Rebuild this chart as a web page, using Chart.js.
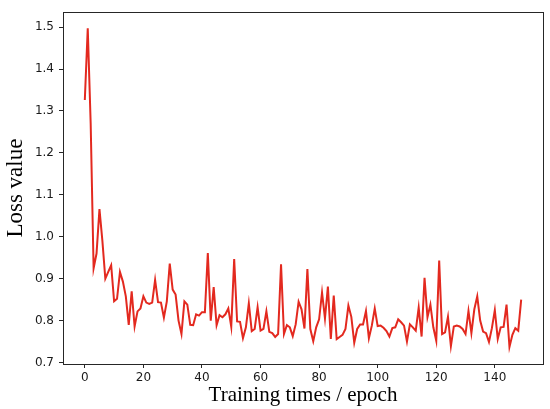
<!DOCTYPE html>
<html>
<head>
<meta charset="utf-8">
<script src="https://cdn.jsdelivr.net/npm/chart.js@4.4.1/dist/chart.umd.min.js"></script>
<style>
  html, body { margin: 0; padding: 0; background: #ffffff; }
  #wrap { width: 550px; height: 409px; position: relative; }
</style>
</head>
<body>
<div id="wrap"><canvas id="c"></canvas></div>
<script>
// Loss value per training epoch
const lossValues = [
  1.326, 1.497, 1.270, 0.925, 0.960, 1.066, 0.990, 0.900, 0.916, 0.932,
  0.846, 0.852, 0.916, 0.893, 0.858, 0.790, 0.870, 0.786, 0.822, 0.829,
  0.858, 0.843, 0.840, 0.843, 0.897, 0.844, 0.843, 0.807, 0.846, 0.936,
  0.874, 0.862, 0.800, 0.768, 0.846, 0.838, 0.790, 0.789, 0.815, 0.812,
  0.820, 0.820, 0.961, 0.800, 0.880, 0.789, 0.813, 0.808, 0.815, 0.829,
  0.785, 0.947, 0.798, 0.797, 0.758, 0.784, 0.841, 0.775, 0.780, 0.832,
  0.776, 0.780, 0.822, 0.773, 0.770, 0.761, 0.768, 0.934, 0.768, 0.789,
  0.784, 0.763, 0.791, 0.845, 0.827, 0.781, 0.923, 0.780, 0.751, 0.784,
  0.803, 0.867, 0.805, 0.881, 0.756, 0.860, 0.756, 0.761, 0.766, 0.780,
  0.836, 0.809, 0.747, 0.780, 0.791, 0.791, 0.823, 0.758, 0.788, 0.829,
  0.787, 0.788, 0.783, 0.775, 0.762, 0.782, 0.784, 0.803, 0.796, 0.788,
  0.750, 0.791, 0.784, 0.776, 0.831, 0.762, 0.902, 0.808, 0.838, 0.784,
  0.752, 0.943, 0.768, 0.772, 0.809, 0.739, 0.786, 0.788, 0.786, 0.780,
  0.768, 0.823, 0.770, 0.827, 0.858, 0.800, 0.774, 0.770, 0.749, 0.782,
  0.825, 0.756, 0.784, 0.785, 0.838, 0.737, 0.766, 0.782, 0.776, 0.850
];
// Epoch index of each loss value
const epochs = lossValues.map((_, i) => i);
const xTickValues = [0, 20, 40, 60, 80, 100, 120, 140];
const yTickValues = [0.7, 0.8, 0.9, 1.0, 1.1, 1.2, 1.3, 1.4, 1.5];
const xTitle = 'Training times / epoch';
const yTitle = 'Loss value';

const frame = {
  id: 'frame',
  afterDatasetsDraw(chart) {
    const a = chart.chartArea, ctx = chart.ctx;
    ctx.save();
    ctx.strokeStyle = '#262626';
    ctx.lineWidth = 1;
    ctx.strokeRect(Math.round(a.left) + 0.5, Math.round(a.top) + 0.5,
      Math.round(a.right - a.left), Math.round(a.bottom - a.top));
    ctx.restore();
  }
};

const tickFont = { family: '"DejaVu Sans", sans-serif', size: 12 };
const xTitleFont = { family: '"Liberation Serif", "Times New Roman", serif', size: 21 };
const yTitleFont = { family: '"Liberation Serif", "Times New Roman", serif', size: 23 };

new Chart(document.getElementById('c'), {
  type: 'line',
  data: {
    datasets: [{
      data: epochs.map((e, i) => ({ x: e, y: lossValues[i] })),
      borderColor: '#e3291f',
      borderWidth: 2,
      pointRadius: 0,
      tension: 0,
      fill: false
    }]
  },
  options: {
    responsive: true,
    maintainAspectRatio: false,
    animation: false,
    layout: { padding: { top: 7, right: 7, left: 0, bottom: 0 } },
    plugins: { legend: { display: false }, tooltip: { enabled: false } },
    scales: {
      x: {
        type: 'linear',
        min: -7.45,
        max: 156.45,
        afterBuildTicks: s => { s.ticks = xTickValues.map(v => ({ value: v })); },
        afterFit: s => { s.height = 45; },
        grid: { display: true, drawOnChartArea: false, drawTicks: true, tickLength: 4, color: '#262626' },
        border: { display: true, color: '#262626' },
        ticks: { font: tickFont, color: '#1a1a1a', padding: 3, maxRotation: 0, callback: v => String(v) },
        title: { display: true, text: xTitle, font: xTitleFont, color: '#000', padding: { top: 0, bottom: 1 } }
      },
      y: {
        type: 'linear',
        min: 0.6965,
        max: 1.5355,
        afterBuildTicks: s => { s.ticks = yTickValues.map(v => ({ value: v })); },
        afterFit: s => { s.width = 63; },
        grid: { display: true, drawOnChartArea: false, drawTicks: true, tickLength: 4, color: '#262626' },
        border: { display: true, color: '#262626' },
        ticks: { font: tickFont, color: '#1a1a1a', padding: 5, callback: v => Number(v).toFixed(1) },
        title: { display: true, text: yTitle, font: yTitleFont, color: '#000', padding: { top: 2, bottom: 0 } }
      }
    }
  },
  plugins: [frame]
});
</script>
</body>
</html>
